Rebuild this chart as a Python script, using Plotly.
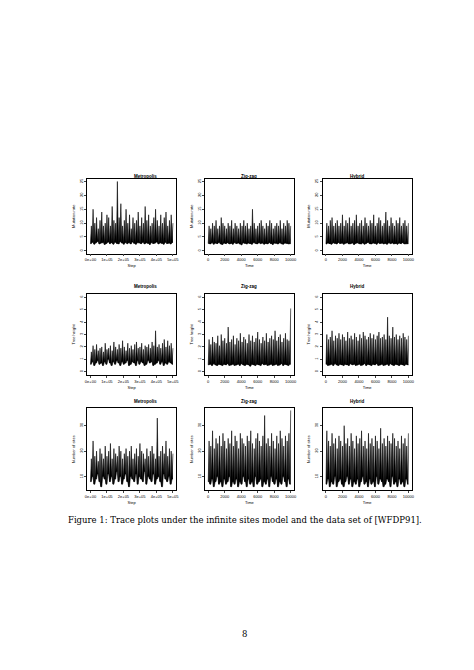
import numpy as np
import plotly.graph_objects as go

titles = ["Metropolis", "Zig-zag", "Hybrid"]
xlabels = ["Step", "Time", "Time"]
ylabels = ["Mutation rate", "Tree height", "Number of sites"]
xticks_metro = [0, 100000, 200000, 300000, 400000, 500000]
xticklabels_metro = ["0e+00", "1e+05", "2e+05", "3e+05", "4e+05", "5e+05"]
xticks_time = [0, 2000, 4000, 6000, 8000, 10000]
yticks = [[0, 5, 10, 15, 20, 25], [0, 1, 2, 3, 4, 5, 6], [10, 20, 30]]
yranges = [[-1, 26], [-0.3, 6.3], [4.6, 36.8]]

peaks = [
 [9,15,10,12,8,11,14,9,10,13,12,9,16,11,10,25,12,17,9,11,15,10,13,8,12,10,11,14,9,12,10,16,11,13,9,10,12,15,11,9,13,10,12,14,9,11,13,10],
 [9,8,10,9,11,8,9,12,10,9,8,10,9,11,8,10,9,8,10,9,11,9,10,8,9,15,10,8,9,10,11,9,8,10,9,11,10,8,9,10,9,11,8,10,9,11,10,9],
 [10,9,11,12,9,10,11,9,10,13,9,11,10,12,9,10,11,13,9,10,11,9,12,10,9,11,10,13,9,10,12,11,9,10,14,11,9,12,10,9,11,10,12,9,10,11,9,10],
 [1.6,2.1,1.8,2.2,1.7,1.9,2.0,1.6,2.3,1.8,1.9,2.1,1.7,2.4,2.0,1.8,2.2,1.9,2.5,2.0,1.7,2.3,1.9,2.1,1.8,2.2,2.4,1.9,2.0,2.3,1.8,2.1,2.0,2.2,1.9,2.4,2.1,3.3,2.0,2.2,1.9,2.3,2.6,2.0,2.5,2.1,2.3,1.9],
 [2.6,2.2,2.8,2.4,2.3,2.9,2.1,3.0,2.5,2.7,2.3,3.6,2.4,2.6,2.9,2.2,2.7,2.5,3.1,2.4,2.8,2.6,2.3,3.0,2.5,2.9,2.4,2.7,3.2,2.6,2.3,2.8,2.5,3.1,2.4,2.7,2.9,2.6,3.3,2.5,2.8,3.0,2.4,2.7,3.1,2.6,2.5,5.1],
 [3.0,2.6,2.8,3.3,2.5,2.9,2.7,3.1,2.6,3.0,2.8,2.5,3.2,2.7,2.9,2.6,3.1,2.8,2.5,3.0,2.7,3.2,2.9,2.6,2.8,3.1,2.7,3.0,2.6,2.9,3.2,2.7,2.8,3.0,2.6,4.4,2.9,2.7,3.6,2.8,3.0,2.6,2.9,2.7,3.1,2.8,2.6,2.9],
 [17,24,18,20,16,21,19,17,22,18,20,23,17,21,19,18,22,20,17,19,21,18,20,22,17,19,21,18,23,20,19,17,21,18,20,22,19,17,33,18,20,22,19,24,18,21,20,19],
 [24,22,28,21,25,23,26,22,27,24,21,25,23,28,22,26,24,21,27,25,23,22,26,24,28,23,21,25,27,24,22,26,34,23,25,22,27,24,21,26,23,28,25,22,26,24,27,36],
 [28,24,22,27,23,25,21,26,24,22,30,23,25,22,27,24,21,26,23,25,28,22,24,21,27,23,25,22,26,24,21,29,23,25,22,26,24,23,27,25,22,24,21,26,23,25,22,27],
]
troughs = [
 [2.6,3.1,2.4,2.9,3.4,2.5,2.8,3.0,2.3,2.7,3.2,2.6,2.9,2.4,3.1,2.7,2.5,3.3,2.8,2.4,3.0,2.6,2.9,2.5,3.2,2.7,2.4,3.0,2.8,2.6,3.1,2.5,2.9,2.7,2.3,3.0,2.6,2.8,3.2,2.5,2.9,2.7,2.4,3.1,2.6,2.8,2.5,3.0],
 [2.7,2.5,2.9,2.4,2.8,2.6,3.0,2.5,2.3,2.8,2.6,2.9,2.5,2.7,2.4,3.0,2.6,2.8,2.5,2.2,2.9,2.7,2.5,2.8,2.6,2.4,3.0,2.7,2.5,2.9,2.6,2.8,2.4,2.7,2.5,2.9,2.6,2.3,2.8,2.7,2.5,2.9,2.6,2.4,2.8,2.7,2.5,2.6],
 [2.5,2.8,2.6,2.4,2.9,2.7,2.5,3.0,2.6,2.8,2.4,2.7,2.9,2.5,2.6,2.8,2.3,2.7,2.9,2.6,2.5,2.8,2.4,2.7,3.0,2.6,2.5,2.8,2.7,2.4,2.9,2.6,2.8,2.5,2.7,2.4,2.9,2.6,2.8,2.5,2.7,2.4,2.8,2.6,2.9,2.5,2.7,2.6],
 [0.6,0.8,0.5,0.7,0.9,0.6,0.7,0.5,0.8,0.6,1.0,0.7,0.5,0.8,0.6,0.9,0.7,0.5,0.8,0.6,0.7,0.9,0.5,0.6,0.8,0.7,0.5,0.9,0.6,0.8,0.7,0.5,0.6,0.9,0.7,0.8,0.5,0.6,0.7,0.9,0.6,0.8,0.5,0.7,0.6,0.8,0.7,0.6],
 [0.55,0.6,0.5,0.65,0.55,0.5,0.6,0.55,0.5,0.6,0.55,0.65,0.5,0.55,0.6,0.5,0.55,0.6,0.5,0.65,0.55,0.5,0.6,0.55,0.45,0.6,0.55,0.5,0.6,0.55,0.5,0.65,0.55,0.6,0.5,0.55,0.6,0.5,0.55,0.6,0.5,0.55,0.65,0.5,0.6,0.55,0.5,0.6],
 [0.6,0.5,0.55,0.6,0.5,0.65,0.55,0.5,0.6,0.55,0.5,0.6,0.55,0.5,0.65,0.55,0.6,0.5,0.55,0.6,0.5,0.55,0.65,0.5,0.6,0.55,0.5,0.6,0.55,0.65,0.5,0.55,0.6,0.5,0.55,0.6,0.5,0.65,0.55,0.5,0.6,0.55,0.5,0.6,0.55,0.5,0.6,0.55],
 [8,10,7,9,11,8,6,10,9,7,11,8,10,7,9,12,8,10,7,9,11,8,6,10,9,8,11,7,10,9,8,12,7,10,9,8,11,7,9,10,8,6,11,9,8,10,7,9],
 [8,7,9,6,8,10,7,8,6,9,7,8,10,6,8,7,9,6,8,7,10,8,6,9,7,8,6,10,7,8,9,6,8,7,9,6,10,8,7,9,6,8,7,10,8,6,9,7],
 [7,9,6,8,7,10,6,8,9,7,6,8,10,7,9,6,8,7,9,6,8,10,7,8,6,9,7,8,6,10,7,9,8,6,7,9,8,6,10,7,8,6,9,7,8,6,9,7],
]

W, H = 474, 670
colx = [(78, 168), (197, 287), (316, 406)]
rowy = [(170, 245), (285, 367), (400, 482)]

fig = go.Figure()
font = dict(family="Liberation Sans", size=4, color="#000000")
for r in range(3):
    for c in range(3):
        k = r * 3 + c + 1
        i = k - 1
        xmax = 500000 if c == 0 else 10000
        seq = np.empty(2 * len(peaks[i]))
        seq[0::2] = troughs[i]
        seq[1::2] = peaks[i]
        low = np.repeat(troughs[i], 2)
        xs = np.linspace(0, xmax, len(seq))
        fig.add_trace(go.Scatter(x=xs, y=low, mode="lines", line=dict(color="black", width=0.6),
                                 xaxis=f"x{k}", yaxis=f"y{k}", showlegend=False, hoverinfo="skip"))
        fig.add_trace(go.Scatter(x=xs, y=seq, mode="lines", line=dict(color="black", width=0.6),
                                 fill="tonexty", fillcolor="black",
                                 xaxis=f"x{k}", yaxis=f"y{k}", showlegend=False, hoverinfo="skip"))
        x0, x1 = colx[c]; y0, y1 = rowy[r]
        pad = xmax * 0.04
        ax = dict(domain=[x0 / W, x1 / W], range=[-pad, xmax + pad], showgrid=False, zeroline=False,
                  showline=True, mirror=True, linecolor="black", linewidth=0.5, ticks="outside",
                  ticklen=2, tickwidth=0.4, tickfont=font, anchor=f"y{k}",
                  tickvals=xticks_metro if c == 0 else xticks_time,
                  ticktext=xticklabels_metro if c == 0 else [str(v) for v in xticks_time],
                  title=dict(text=xlabels[c], font=font, standoff=3))
        ay = dict(domain=[1 - y1 / H, 1 - y0 / H], range=yranges[r], showgrid=False, zeroline=False,
                  showline=True, mirror=True, linecolor="black", linewidth=0.5, ticks="outside",
                  ticklen=2, tickwidth=0.4, tickfont=font, anchor=f"x{k}", tickvals=yticks[r],
                  tickangle=-90, title=dict(text=ylabels[r], font=font, standoff=3))
        fig.layout[f"xaxis{k}"] = ax
        fig.layout[f"yaxis{k}"] = ay
        fig.add_annotation(x=(x0 + x1) / 2 / W, y=1 - (y0 - 7) / H, xref="paper", yref="paper",
                           text=titles[c], showarrow=False,
                           font=dict(family="Liberation Sans", size=4.5, color="#000000", weight="bold"))

fig.add_annotation(x=0.5, y=1 - 519 / H, xref="paper", yref="paper", showarrow=False,
                   text="Figure 1: Trace plots under the infinite sites model and the data set of [WFDP91].",
                   font=dict(family="DejaVu Serif", size=8.5, color="black"))
fig.add_annotation(x=0.5, y=1 - 633 / H, xref="paper", yref="paper", showarrow=False, text="8",
                   font=dict(family="DejaVu Serif", size=8.5, color="black"))
fig.update_layout(width=W, height=H, margin=dict(l=0, r=0, t=0, b=0),
                  paper_bgcolor="white", plot_bgcolor="white")
fig.write_html("out.html")
